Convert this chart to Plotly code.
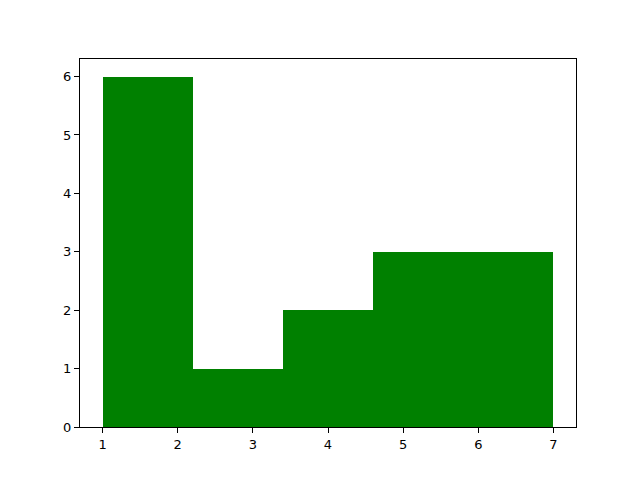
"""Histogram of values in five equal bins, drawn as green bars."""

import plotly.graph_objects as go

# Histogram bins (edges) and counts per bin
bin_edges = [1.0, 2.2, 3.4, 4.6, 5.8, 7.0]
counts = [6, 1, 2, 3, 3]

centers = [(a + b) / 2 for a, b in zip(bin_edges[:-1], bin_edges[1:])]
widths = [b - a for a, b in zip(bin_edges[:-1], bin_edges[1:])]

fig = go.Figure()

fig.add_trace(
    go.Bar(
        x=centers,
        y=counts,
        width=widths,
        marker=dict(color="green", line=dict(width=0)),
        showlegend=False,
    )
)

axis_style = dict(
    showline=True,
    linecolor="black",
    linewidth=1,
    mirror=True,
    ticks="outside",
    ticklen=5,
    tickcolor="black",
    showgrid=False,
    zeroline=False,
    tickfont=dict(family="DejaVu Sans", size=13, color="black"),
)

fig.update_layout(
    width=640,
    height=480,
    paper_bgcolor="white",
    plot_bgcolor="white",
    margin=dict(l=72, r=72, t=51, b=61),
    bargap=0,
    xaxis=dict(range=[0.7, 7.3], tickvals=[1, 2, 3, 4, 5, 6, 7], **axis_style),
    yaxis=dict(range=[0, 6.3], tickvals=[0, 1, 2, 3, 4, 5, 6], **axis_style),
)

fig.write_html("out.html")
